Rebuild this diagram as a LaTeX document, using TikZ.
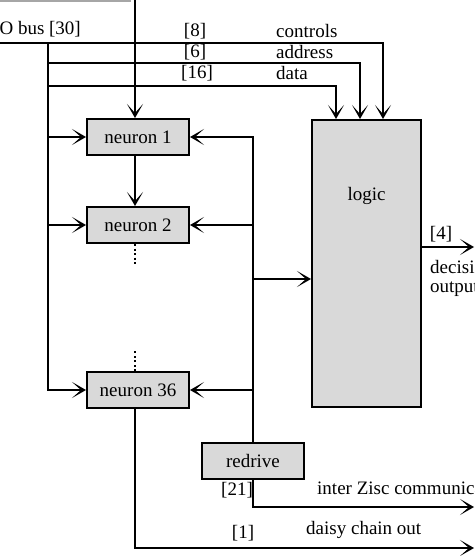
\documentclass[tikz,border=0pt]{standalone}
\usepackage{fontspec}
\setmainfont{Liberation Serif}
\usetikzlibrary{arrows.meta,positioning}
\definecolor{boxgray}{gray}{0.85}
\tikzset{
	unit/.style={draw, fill=boxgray, line width=2pt, minimum width=102pt, minimum height=36pt, inner sep=0pt},
	wire/.style={line width=2pt},
	arr/.style={wire, -{Stealth[length=14pt,width=16pt,inset=9pt]}},
	dots/.style={line width=2pt, dash pattern=on 2pt off 2.5pt},
	lbl/.style={inner sep=0pt}
}

\begin{document}
\begin{tikzpicture}[x=1pt, y=-1pt, font=\fontsize{19}{22}\selectfont]
		%%%%% START %%%%%
		\useasboundingbox (0,0) rectangle (474,556);
		\clip (0,0) rectangle (474,556);
		
		% edge of the box above
		\draw[gray!70, line width=2.5pt] (0,1) -- (131,1);
		
		\node[unit] (n1) at (138,137) {neuron 1};
		\node[unit] (n2) at (138,225) {neuron 2};
		\node[unit] (n36) at (138,390) {neuron 36};
		\node[unit] (redrive) at (253,461) {redrive};
		\node[unit, minimum width=109pt, minimum height=287pt] (logic) at (366.5,263.5) {};
		\node[lbl, below=68pt of logic.north] (logictxt) {logic};
		
		\coordinate (iobus) at (135,-2);
		\coordinate (bus) at (-2,43);
		\coordinate (tap) at (48,43);
		\coordinate (addr) at (48,63);
		\coordinate (data) at (48,86);
		\coordinate (lin) at (252,279);
		\coordinate (decout) at (474,247);
		\coordinate (icout) at (474,507);
		\coordinate (dcout) at (474,548);
		
		% bus to logic
		\draw[arr] (bus) -| ([xshift=16.5pt]logic.north);
		\draw[arr] (addr) -| ([xshift=-6.5pt]logic.north);
		\draw[arr] (data) -| ([xshift=-30.5pt]logic.north);
		\node[lbl] (l8) at (195,31) {[8]};
		\node[lbl] (l6) at (195,52) {[6]};
		\node[lbl] (l16) at (197,73) {[16]};
		\node[lbl, anchor=west] (lctl) at (276,31) {controls};
		\node[lbl, anchor=west] (ladr) at (276,52) {address};
		\node[lbl, anchor=west] (ldat) at (276,73) {data};
		\node[lbl, anchor=east] (liobus) at (81,29) {I/O bus [30]};
		
		% neuron chain
		\draw[arr] (iobus) -- (iobus |- n1.north);
		\draw[arr] (n1.south -| iobus) -- (iobus |- n2.north);
		\draw[dots] (n2.south -| iobus) -- ++(0,22);
		\draw[dots] (n36.north -| iobus) -- ++(0,-22);
		
		% left bus
		\draw[arr] (tap) |- (n36.west);
		\draw[arr] (tap |- n1) -- (n1.west);
		\draw[arr] (tap |- n2) -- (n2.west);
		
		% right bus
		\draw[arr] (redrive.north) |- (n1.east);
		\draw[arr] (redrive.north |- n2) -- (n2.east);
		\draw[arr] (redrive.north |- n36) -- (n36.east);
		\draw[arr] (lin) -- (lin -| logic.west);
		
		% outputs
		\draw[arr] (decout -| logic.east) -- (decout);
		\node[lbl] (l4) at (441,234) {[4]};
		\node[lbl, anchor=west] (ldec) at (430,267) {decision};
		\node[lbl, anchor=west] (lout) at (430,289) {outputs};
		
		\draw[arr] (redrive.south) |- (icout);
		\node[lbl] (l21) at (237,490) {[21]};
		\node[lbl, anchor=west] (lic) at (317,488) {inter Zisc communication};
		
		\draw[arr] (n36.south -| iobus) |- (dcout);
		\node[lbl] (l1) at (243,533) {[1]};
		\node[lbl, anchor=west] (ldc) at (306,530) {daisy chain out};
		%%%%% END %%%%%
	\end{tikzpicture}
\end{document}
